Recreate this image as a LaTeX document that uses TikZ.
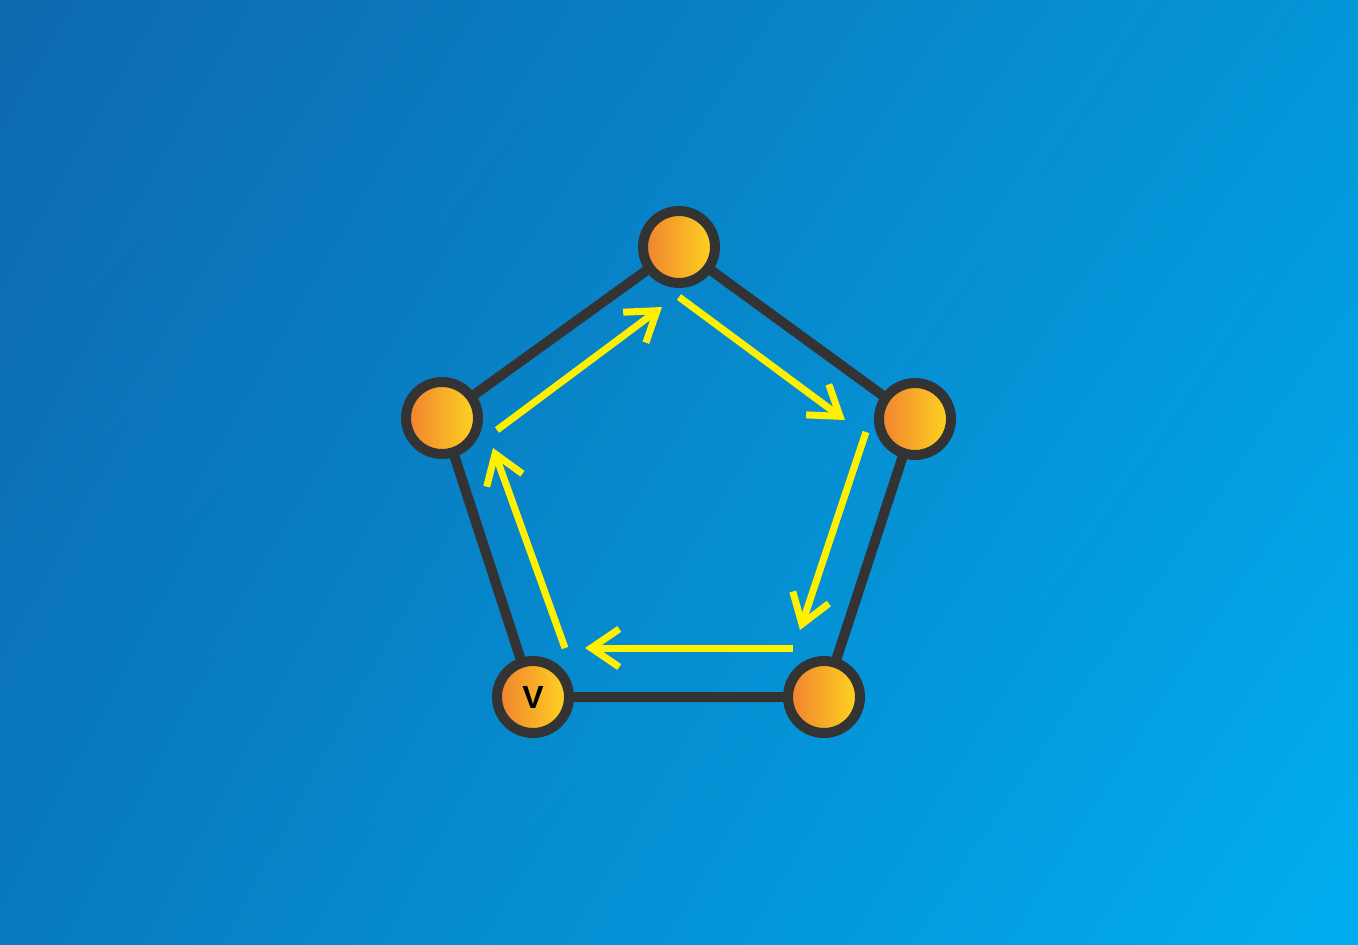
\documentclass[tikz,border=0pt]{standalone}
\usepackage{fontspec}
\setsansfont{Liberation Sans}
\usetikzlibrary{arrows.meta,shadings}
\definecolor{bgUL}{RGB}{14,104,174}
\definecolor{bgUR}{RGB}{4,150,216}
\definecolor{bgLL}{RGB}{8,122,192}
\definecolor{bgLR}{RGB}{0,174,239}
\definecolor{edgegray}{RGB}{51,51,51}
\definecolor{nodeorange}{RGB}{240,128,48}
\definecolor{nodeyellow}{RGB}{255,214,32}
\definecolor{arrowyellow}{RGB}{255,240,0}
\tikzset{
  vertex/.style={circle, draw=edgegray, line width=10pt, minimum size=72pt, inner sep=0pt,
    left color=nodeorange, right color=nodeyellow},
  graphedge/.style={draw=edgegray, line width=10pt},
  walk/.style={draw=arrowyellow, line width=7pt, -{Straight Barb[length=28pt,width=38pt,line width=7pt]}},
  vlabel/.style={font=\sffamily\bfseries\fontsize{32}{32}\selectfont, text=black}
}
\begin{document}
\begin{tikzpicture}[x=1pt,y=-1pt]
\useasboundingbox (0,0) rectangle (1358,945);
\shade[upper left=bgUL, upper right=bgUR, lower left=bgLL, lower right=bgLR] (0,0) rectangle (1358,945);
% vertex positions
\coordinate (pT) at (679,247);
\coordinate (pL) at (442,418);
\coordinate (pR) at (915,419);
\coordinate (pBL) at (533,697);
\coordinate (pBR) at (824,697);
% edges
\draw[graphedge] (pT) -- (pR) -- (pBR) -- (pBL) -- (pL) -- cycle;
% vertices
\node[vertex] (T) at (pT) {};
\node[vertex] (L) at (pL) {};
\node[vertex] (R) at (pR) {};
\node[vertex, vlabel] (BL) at (pBL) {V};
\node[vertex] (BR) at (pBR) {};
% walk arrows
\coordinate (a1s) at (497,430); \coordinate (a1e) at (662,307);
\coordinate (a2s) at (679,297); \coordinate (a2e) at (845,420);
\coordinate (a3s) at (866,432); \coordinate (a3e) at (800,630);
\coordinate (a4s) at (793,648); \coordinate (a4e) at (585,648);
\coordinate (a5s) at (565,648); \coordinate (a5e) at (493,448);
\draw[walk] (a1s) -- (a1e);
\draw[walk] (a2s) -- (a2e);
\draw[walk] (a3s) -- (a3e);
\draw[walk] (a4s) -- (a4e);
\draw[walk] (a5s) -- (a5e);
\end{tikzpicture}
\end{document}
